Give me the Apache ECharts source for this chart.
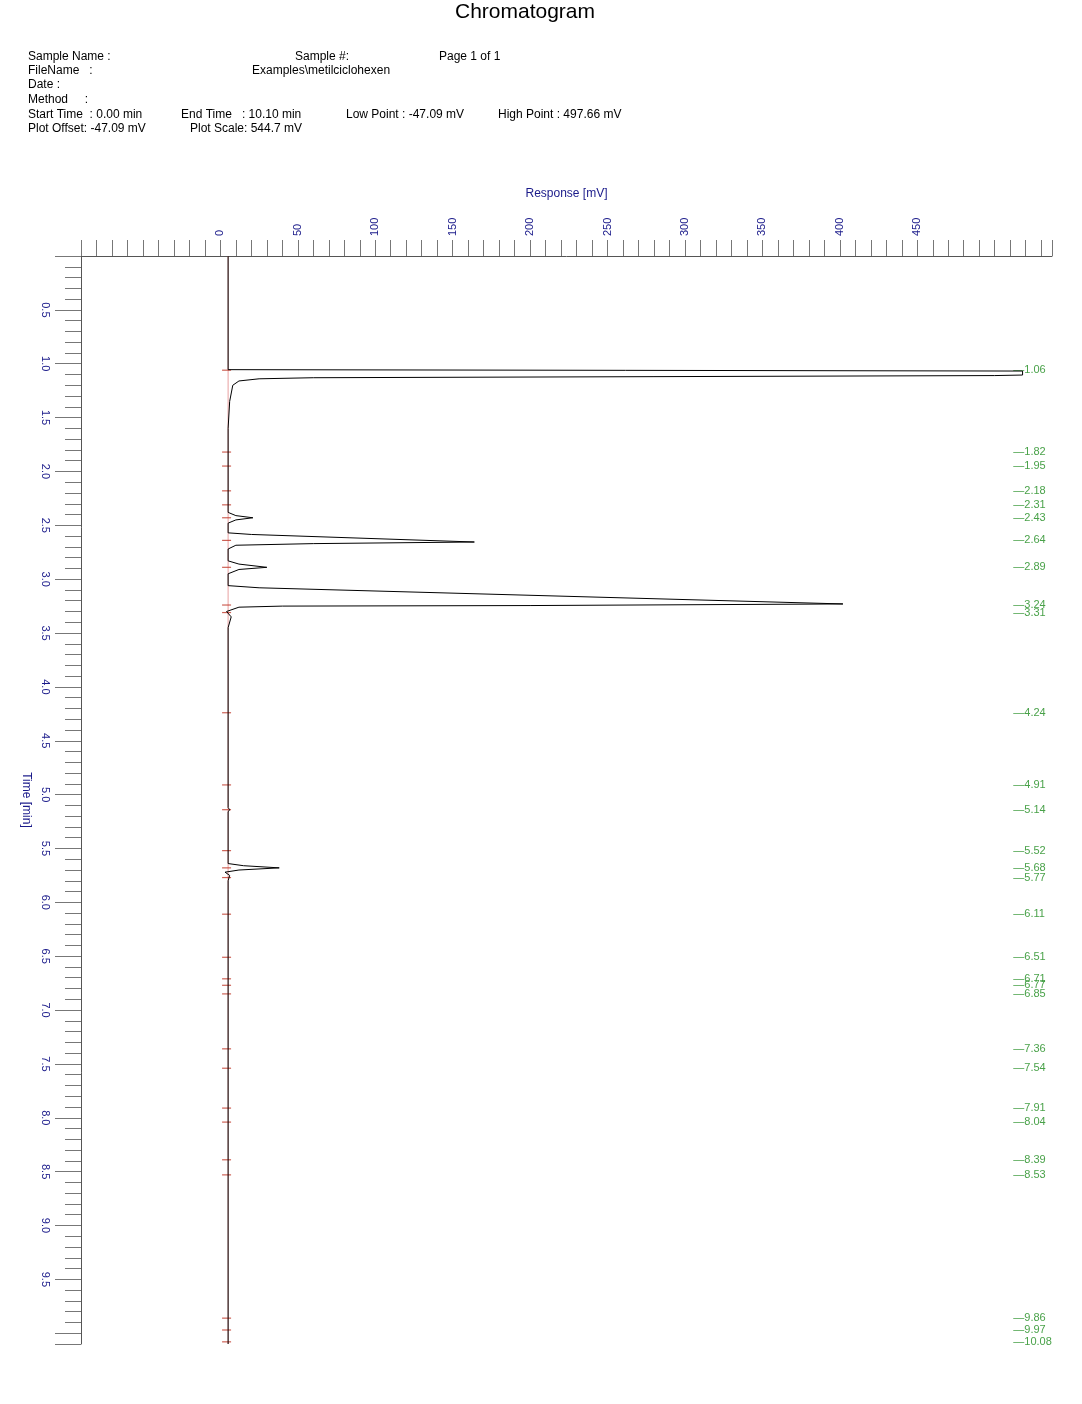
<!DOCTYPE html>
<html><head><meta charset="utf-8">
<script src="https://cdn.jsdelivr.net/npm/echarts@6/dist/echarts.min.js"></script>
<style>html,body{margin:0;padding:0;background:#fff}#c{width:1082px;height:1404px}</style>
</head><body><div id="c"></div>
<script>
const traceTimes = [0,1.055,1.062,1.068,1.105,1.11,1.13,1.14,1.16,1.2,1.35,1.6,
 2.38,2.41,2.43,2.45,2.48, 2.57,2.585,2.655,2.67,2.685,2.72, 2.83,2.86,2.89,2.91,2.95,
 3.06,3.08,3.23,3.245,3.25,3.26,3.3,3.35,3.45, 5.12,5.14,5.16, 5.64,5.66,5.68,5.7,5.72,5.75,5.8, 10.1];
const traceResp = [5,5,5,518,518,500,60,25,12,8,6,5,
 5,10,21,10,5, 5,20,164,60,10,5, 5,12,30,12,5,
 5,25,402,200,40,12,4,7,5, 5,6,5, 5,15,38,12,3,6,5, 5];
const peakTimes = [1.06,1.82,1.95,2.18,2.31,2.43,2.64,2.89,3.24,3.31,4.24,4.91,5.14,5.52,5.68,5.77,6.11,6.51,6.71,6.77,6.85,7.36,7.54,7.91,8.04,8.39,8.53,9.86,9.97,10.08];
const headerLines = [
 ["Sample Name :",28,57],["Sample #:",295,57],["Page 1 of 1",439,57],
 ["FileName   :",28,71],["Examples\\metilciclohexen",252,71],
 ["Date :",28,85],["Method     :",28,100],
 ["Start Time  : 0.00 min",28,115],["End Time   : 10.10 min",181,115],["Low Point : -47.09 mV",346,115],["High Point : 497.66 mV",498,115],
 ["Plot Offset: -47.09 mV",28,129],["Plot Scale: 544.7 mV",190,129]
];
const chart = echarts.init(document.getElementById('c'));
const trace = traceTimes.map((t,i)=>[traceResp[i],t]);
const graphics = [{type:'text',x:525,y:2,style:{text:'Chromatogram',align:'center',font:'21px "Liberation Sans"',fill:'#000'}}]
 .concat(headerLines.map(h=>({type:'text',x:h[1],y:h[2]-6,style:{text:h[0],font:'12px "Liberation Sans"',fill:'#000'}})));
chart.setOption({
 animation:false,
 graphic:graphics,
 grid:{left:81,right:30,top:256,bottom:60},
 xAxis:{type:'value',position:'top',min:-90,max:537,interval:10,
  name:'Response [mV]',nameLocation:'middle',nameGap:56,nameTextStyle:{color:'#1a1a8a',fontSize:12,fontFamily:'Liberation Sans'},
  axisLine:{onZero:false,lineStyle:{color:'#555'}},
  axisTick:{show:true,length:16,lineStyle:{color:'#777'}},
  axisLabel:{rotate:-90,color:'#1a1a8a',fontSize:11,margin:20,fontFamily:'Liberation Sans',
   formatter:v=>(v>=0&&v<=450&&v%50===0)?String(v):''},
  splitLine:{show:false}},
 yAxis:{type:'value',inverse:true,min:0,max:10.1,interval:0.5,
  name:'Time [min]',nameLocation:'middle',nameGap:48,nameRotate:-90,nameTextStyle:{color:'#1a1a8a',fontSize:12,fontFamily:'Liberation Sans'},
  axisLine:{onZero:false,lineStyle:{color:'#555'}},
  axisTick:{show:true,length:26,lineStyle:{color:'#777'}},
  minorTick:{show:true,splitNumber:5,length:16,lineStyle:{color:'#777'}},
  axisLabel:{rotate:-90,color:'#1a1a8a',fontSize:11,margin:30,fontFamily:'Liberation Sans',
   formatter:v=>(v>0&&v<10)?v.toFixed(1):''},
  splitLine:{show:false}},
 series:[
  {type:'line',data:trace,symbol:'none',lineStyle:{color:'#000',width:1},z:3},
  {type:'scatter',data:peakTimes.map(t=>[4,t]),symbol:'rect',symbolSize:[9,1.2],itemStyle:{color:'#c0392b'},z:2},
  {type:'line',data:[[5,0],[5,10.1]],symbol:'none',lineStyle:{color:'#e8a0a0',width:1},z:1},
  {type:'scatter',data:peakTimes.map(t=>[512,t]),symbolSize:0,
   label:{show:true,position:'right',distance:0,formatter:p=>'\u2014'+p.value[1].toFixed(2),color:'#1a8a1a',fontSize:11,fontFamily:'Liberation Sans'}}
 ]
});
</script></body></html>
